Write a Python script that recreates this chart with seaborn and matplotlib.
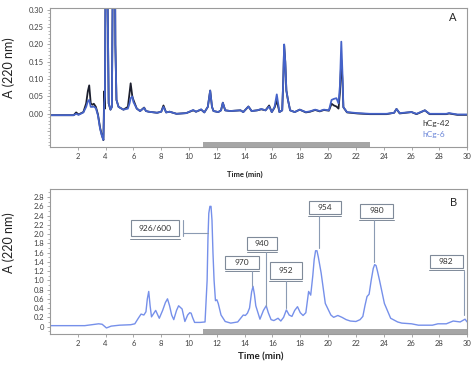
import numpy as np
import pandas as pd
import matplotlib.pyplot as plt
import seaborn as sns
from matplotlib.patches import Rectangle

# --- panel A: two overlaid chromatograms ---
aika_a = [0.0, 1.7, 1.88, 2.05, 2.4, 2.6, 2.72, 2.82, 2.93, 3.05, 3.15, 3.3, 3.45, 3.6,
          3.72, 3.84, 3.9, 3.95, 4.02, 4.08, 4.15, 4.22, 4.35, 4.45, 4.55, 4.62, 4.7,
          4.78, 4.93, 5.28, 5.6, 5.72, 5.8, 5.92, 6.0, 6.24, 6.48, 6.77, 6.9, 7.1, 7.7,
          8.0, 8.16, 8.35, 8.6, 9.1, 9.8, 10.3, 10.5, 10.87, 11.1, 11.35, 11.52, 11.65,
          11.76, 12.1, 12.3, 12.43, 12.6, 12.96, 13.7, 13.9, 14.27, 14.5, 14.9, 15.2,
          15.5, 15.76, 15.95, 16.15, 16.31, 16.5, 16.7, 16.78, 16.84, 16.92, 17.0, 17.1,
          17.27, 17.6, 17.96, 18.4, 18.7, 19.07, 19.4, 19.7, 20.06, 20.25, 20.42, 20.6,
          20.75, 20.85, 20.95, 21.03, 21.1, 21.36, 22.1, 23.0, 24.2, 24.75, 24.92, 25.15,
          26.0, 26.36, 26.96, 27.3, 28.5, 28.7, 29.3, 30.0]
hcg6 = [-0.004, -0.004, 0.0, -0.003, 0.004, 0.02, 0.036, 0.04, 0.02, 0.02, 0.021, 0.016,
        -0.005, -0.043, -0.062, -0.075, 0.03, 0.05, 0.6, 0.9, 0.3, 0.03, 0.012, 0.02, 0.6,
        0.9, 0.2, 0.04, 0.02, 0.012, 0.015, 0.03, 0.045, 0.05, 0.034, 0.015, 0.008, 0.017,
        0.008, 0.006, 0.003, 0.006, 0.02, 0.004, 0.006, 0.0, 0.002, 0.011, 0.006, 0.013,
        0.004, 0.02, 0.067, 0.02, 0.008, 0.005, 0.01, 0.032, 0.01, 0.008, 0.01, 0.005,
        0.021, 0.008, 0.01, 0.014, 0.01, 0.021, 0.005, 0.02, 0.056, 0.005, 0.01, 0.1, 0.2,
        0.15, 0.067, 0.043, 0.01, 0.005, 0.012, 0.005, 0.007, 0.012, 0.008, 0.012, 0.01,
        0.04, 0.043, 0.045, 0.03, 0.08, 0.208, 0.12, 0.019, 0.005, 0.002, 0.0, 0.0, 0.003,
        0.014, 0.002, 0.005, 0.0, 0.01, 0.0, 0.0, 0.002, -0.002, -0.002]
hcg42 = [-0.004, -0.004, 0.004, -0.002, 0.005, 0.03, 0.065, 0.082, 0.03, 0.026, 0.029, 0.02,
         -0.002, -0.04, -0.06, -0.076, 0.065, 0.015, 0.6, 0.9, 0.3, 0.03, 0.012, 0.02, 0.6,
         0.9, 0.2, 0.04, 0.02, 0.012, 0.02, 0.06, 0.088, 0.05, 0.04, 0.015, 0.008, 0.018,
         0.008, 0.006, 0.003, 0.006, 0.024, 0.004, 0.006, 0.0, 0.002, 0.01, 0.006, 0.012,
         0.004, 0.02, 0.067, 0.02, 0.008, 0.005, 0.01, 0.032, 0.01, 0.008, 0.01, 0.005,
         0.021, 0.008, 0.01, 0.013, 0.01, 0.024, 0.005, 0.018, 0.038, 0.005, 0.01, 0.1, 0.197,
         0.15, 0.067, 0.043, 0.01, 0.005, 0.012, 0.004, 0.006, 0.011, 0.007, 0.011, 0.009,
         0.029, 0.024, 0.021, 0.015, 0.06, 0.155, 0.1, 0.019, 0.004, 0.001, -0.001, -0.001,
         0.003, 0.014, 0.001, 0.005, -0.001, 0.01, -0.001, -0.001, 0.001, -0.003, -0.003]

# --- panel B: single chromatogram ---
aika_b = [0.0, 2.5, 3.0, 3.5, 3.75, 4.06, 4.4, 5.0, 5.8, 6.1, 6.35, 6.55, 6.75, 6.9, 7.0,
          7.1, 7.2, 7.3, 7.45, 7.6, 7.75, 7.86, 8.1, 8.3, 8.45, 8.6, 8.75, 8.9, 9.1, 9.25,
          9.5, 9.7, 9.9, 10.05, 10.15, 10.25, 10.4, 10.8, 11.15, 11.3, 11.36, 11.42, 11.5,
          11.58, 11.65, 11.72, 11.8, 11.9, 12.0, 12.1, 12.3, 12.6, 13.0, 13.5, 13.9, 14.05,
          14.2, 14.35, 14.5, 14.6, 14.7, 14.8, 15.1, 15.35, 15.55, 15.7, 15.9, 16.1, 16.4,
          16.6, 16.8, 17.0, 17.2, 17.4, 17.6, 17.8, 18.0, 18.2, 18.4, 18.6, 18.75, 18.9,
          19.0, 19.1, 19.2, 19.3, 19.5, 19.8, 20.2, 20.4, 20.7, 21.0, 21.3, 21.6, 22.0,
          22.3, 22.5, 22.65, 22.8, 22.95, 23.1, 23.25, 23.35, 23.45, 23.55, 23.7, 24.05,
          24.5, 25.0, 25.3, 26.0, 26.5, 27.5, 27.9, 28.5, 29.0, 29.5, 29.85, 30.0]
absorb_b = [0.02, 0.02, 0.04, 0.06, 0.05, -0.03, 0.01, 0.03, 0.04, 0.06, 0.18, 0.27, 0.25,
            0.32, 0.6, 0.76, 0.45, 0.21, 0.28, 0.35, 0.25, 0.18, 0.35, 0.52, 0.6, 0.45,
            0.25, 0.15, 0.35, 0.45, 0.38, 0.11, 0.25, 0.3, 0.29, 0.2, 0.09, 0.09, 0.1, 1.0,
            1.9, 2.45, 2.6, 2.6, 2.3, 1.6, 1.0, 0.56, 0.58, 0.5, 0.25, 0.11, 0.075, 0.1,
            0.25, 0.24, 0.29, 0.4, 0.75, 0.87, 0.7, 0.45, 0.16, 0.35, 0.45, 0.3, 0.15, 0.13,
            0.18, 0.12, 0.2, 0.36, 0.25, 0.22, 0.35, 0.43, 0.3, 0.24, 0.3, 0.76, 0.68, 1.1,
            1.45, 1.64, 1.64, 1.5, 1.16, 0.5, 0.25, 0.2, 0.24, 0.2, 0.15, 0.12, 0.11, 0.15,
            0.22, 0.45, 0.65, 0.7, 1.0, 1.26, 1.34, 1.32, 1.2, 1.0, 0.5, 0.18, 0.1, 0.075,
            0.06, 0.03, 0.03, 0.06, 0.06, 0.12, 0.1, 0.16, 0.1]

# piikkien nimet ja kohdat (B)
piikit = ["926/600", "970", "940", "952", "954", "980", "982"]
piikki_aika = [11.38, 14.5, 15.5, 17.0, 19.35, 23.3, 29.75]
piikki_korkeus = [2.02, 0.88, 0.45, 0.41, 1.70, 1.40, 0.26]

xtiks = list(range(2, 31, 2))

sns.set_style("white")
plt.rcParams["font.family"] = ["Lato", "DejaVu Sans"]

fig = plt.figure(figsize=(4.74, 3.65), dpi=100)
ax1 = fig.add_axes([0.1055, 0.597, 0.880, 0.381])
ax2 = fig.add_axes([0.1055, 0.085, 0.880, 0.3965])

df_a = pd.DataFrame({"t": aika_a, "hCg-42": hcg42, "hCg-6": hcg6})
sns.lineplot(x="t", y="hCg-42", data=df_a, ax=ax1, color="#1c1f2e", lw=1.3)
sns.lineplot(x="t", y="hCg-6", data=df_a, ax=ax1, color="#4563c9", lw=1.3)

df_b = pd.DataFrame({"t": aika_b, "A": absorb_b})
sns.lineplot(x="t", y="A", data=df_b, ax=ax2, color="#7690ea", lw=1.0)

harmaa = "#9a9a9a"
for ax in (ax1, ax2):
    for s in ax.spines.values():
        s.set_color(harmaa)
        s.set_linewidth(0.8)
    ax.set_xlim(0, 30)
    ax.set_xticks(xtiks)
    ax.set_xticklabels([str(x) for x in xtiks])
    ax.tick_params(axis="both", labelsize=5.5, colors=harmaa, labelcolor="#404040",
                   length=2.5, width=0.6, pad=2, bottom=True, left=True)
    ax.tick_params(which="minor", length=1.5, width=0.5, colors=harmaa, left=True)

# A
ax1.set_ylim(-0.096, 0.305)
ytk = [-0.05, 0.0, 0.05, 0.10, 0.15, 0.20, 0.25, 0.30]
ax1.set_yticks(ytk)
ax1.set_yticklabels([""] + ["%.2f" % v for v in ytk[1:]])
ax1.set_yticks(np.arange(-0.09, 0.30, 0.01), minor=True)
ax1.add_patch(Rectangle((11, -0.096), 12, 0.016, color="#a6a6a6", lw=0))
ax1.set_xlabel("Time (min)", fontsize=5.5, fontweight="bold", color="#222222")
ax1.xaxis.set_label_coords(0.468, -0.17)
ax1.set_ylabel("A (220 nm)", fontsize=9, color="#222222")
ax1.yaxis.set_label_coords(-0.084, 0.57)
ax1.text(0.975, 0.93, "A", transform=ax1.transAxes, fontsize=8, ha="right", va="center")
ax1.text(0.893, 0.15, "hCg-42", transform=ax1.transAxes, fontsize=6, color="#333333")
ax1.text(0.893, 0.075, "hCg-6", transform=ax1.transAxes, fontsize=6, color="#6a85d8")

# B
ax2.set_ylim(-0.16, 2.97)
ytk_b = np.round(np.arange(0, 2.81, 0.2), 1)
ax2.set_yticks(ytk_b)
ax2.set_yticklabels(["0"] + ["%.1f" % v for v in ytk_b[1:]])
ax2.set_yticks(np.arange(-0.1, 2.95, 0.1), minor=True)
ax2.add_patch(Rectangle((11, -0.16), 19, 0.11, color="#a6a6a6", lw=0))
ax2.set_xlabel("Time (min)", fontsize=7, fontweight="bold", color="#222222")
ax2.xaxis.set_label_coords(0.506, -0.13)
ax2.set_ylabel("A (220 nm)", fontsize=9, color="#222222")
ax2.yaxis.set_label_coords(-0.084, 0.63)
ax2.text(0.975, 0.91, "B", transform=ax2.transAxes, fontsize=8, ha="right", va="center")

# laatikot: (vasen, oikea, ala, yla) datakoordinaateissa
laatikot = [(5.83, 9.3, 1.95, 2.31), (12.6, 15.0, 1.25, 1.53), (14.2, 16.3, 1.66, 1.94),
            (15.8, 18.1, 1.03, 1.40), (18.6, 20.9, 2.44, 2.72), (22.3, 24.7, 2.35, 2.65),
            (27.3, 29.7, 1.27, 1.55)]
viiva = "#8b9bb3"
for nimi, (x0, x1, y0, y1), tp, hp in zip(piikit, laatikot, piikki_aika, piikki_korkeus):
    ax2.add_patch(Rectangle((x0, y0), x1 - x0, y1 - y0, fill=False, ec="#7f8a99", lw=0.8))
    ax2.plot([x0 - 0.05, x1 + 0.05], [y0 - 0.05, y0 - 0.05], color="#7f8a99", lw=0.7)
    ax2.text((x0 + x1) / 2, (y0 + y1) / 2, nimi, fontsize=6, ha="center", va="center",
             color="#333333")
    if nimi == "926/600":
        ax2.plot([9.54, 9.54], [y0, y1], color=viiva, lw=0.8)
        ax2.plot([9.54, tp], [hp, hp], color=viiva, lw=0.8)
    elif nimi == "982":
        ax2.plot([tp, tp], [y0 - 0.07, hp], color=viiva, lw=0.8)
    else:
        ax2.plot([tp, tp], [y0 - 0.05, hp], color=viiva, lw=0.8)

plt.savefig("out.png", dpi=100)
